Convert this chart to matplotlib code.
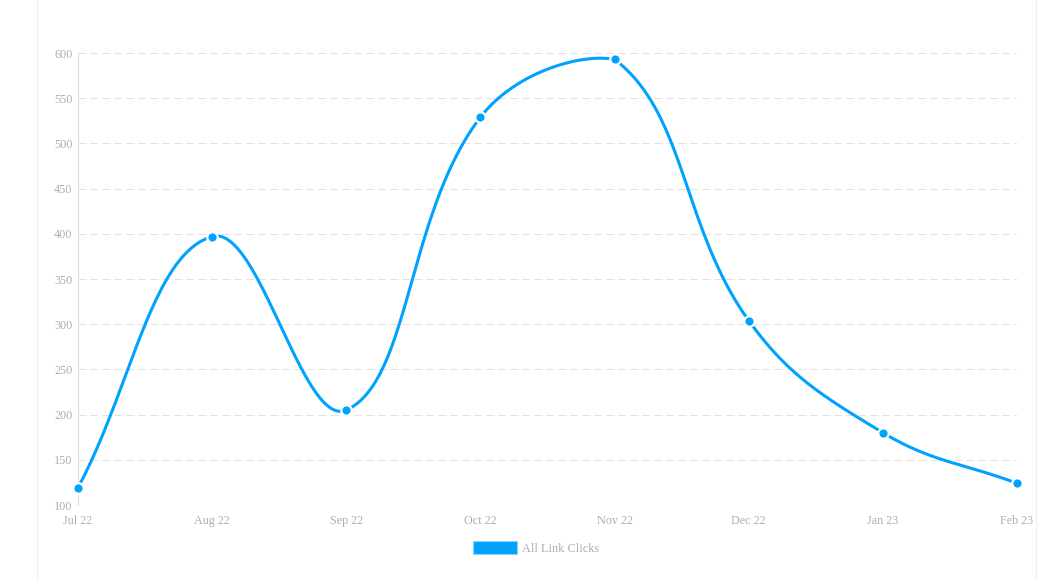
import numpy as np
import matplotlib
matplotlib.use("Agg")
import matplotlib.pyplot as plt
from matplotlib.patches import Patch
from matplotlib.lines import Line2D

months = ["Jul 22", "Aug 22", "Sep 22", "Oct 22", "Nov 22", "Dec 22", "Jan 23", "Feb 23"]
clicks = [119, 397, 205, 529, 593, 304, 180, 124]
y_ticks = [100, 150, 200, 250, 300, 350, 400, 450, 500, 550, 600]

LINE_COLOR = "#00a2ff"
TEXT_COLOR = "#a7afba"
GRID_COLOR = "#e2e2e2"

# axes box in pixels
AX_L, AX_R, AX_T, AX_B = 78, 1017, 53, 505
W, H = AX_R - AX_L, AX_B - AX_T
Y_MIN, Y_MAX = 100, 600


def tension_curve(x, y, tension=0.4, steps=50):
    # cardinal-style bezier (like chart.js tension 0.4), worked out in pixel space
    n = len(x)
    px = np.asarray(x, float) / (n - 1) * W
    py = (np.asarray(y, float) - Y_MIN) / (Y_MAX - Y_MIN) * H
    pts = np.column_stack([px, py])
    cp_prev = np.zeros_like(pts)
    cp_next = np.zeros_like(pts)
    for i in range(n):
        prev = pts[i - 1] if i > 0 else pts[i]
        cur = pts[i]
        nxt = pts[i + 1] if i < n - 1 else pts[i]
        d01 = np.hypot(*(cur - prev))
        d12 = np.hypot(*(nxt - cur))
        s01 = d01 / (d01 + d12)
        s12 = d12 / (d01 + d12)
        cp_prev[i] = cur - tension * s01 * (nxt - prev)
        cp_next[i] = cur + tension * s12 * (nxt - prev)
    # keep control points inside the chart area
    for cp in (cp_prev, cp_next):
        cp[:, 0] = np.clip(cp[:, 0], 0, W)
        cp[:, 1] = np.clip(cp[:, 1], 0, H)
    t = np.linspace(0, 1, steps)[:, None]
    segs = []
    for i in range(n - 1):
        p0, p1, p2, p3 = pts[i], cp_next[i], cp_prev[i + 1], pts[i + 1]
        segs.append((1 - t) ** 3 * p0 + 3 * (1 - t) ** 2 * t * p1 + 3 * (1 - t) * t ** 2 * p2 + t ** 3 * p3)
    curve = np.vstack(segs)
    return curve[:, 0] / W * (n - 1), curve[:, 1] / H * (Y_MAX - Y_MIN) + Y_MIN


fig = plt.figure(figsize=(10.57, 5.8), dpi=100)
ax = fig.add_axes([AX_L / 1057, 1 - AX_B / 580, W / 1057, H / 580])

x = np.arange(len(months))
cx, cy = tension_curve(x, clicks)
ax.plot(cx, cy, color=LINE_COLOR, linewidth=2.2, solid_capstyle="round", zorder=3)
ax.plot(x, clicks, linestyle="none", marker="o", markersize=7.5, markerfacecolor=LINE_COLOR,
        markeredgecolor="white", markeredgewidth=1.6, zorder=4, clip_on=False)

ax.set_xlim(0, len(months) - 1)
ax.set_ylim(Y_MIN, Y_MAX)
ax.set_xticks(x)
ax.set_xticklabels(months)
ax.set_yticks(y_ticks)
ax.set_yticklabels([str(v) for v in y_ticks])

for v in y_ticks:
    ax.axhline(v, color=GRID_COLOR, linewidth=0.72, dashes=(8, 4), zorder=1)

for side in ["top", "right", "bottom"]:
    ax.spines[side].set_visible(False)
ax.spines["left"].set_color("#dcdcdc")
ax.spines["left"].set_linewidth(0.8)

ax.tick_params(axis="both", length=0, colors=TEXT_COLOR, labelsize=8.7)
ax.tick_params(axis="x", pad=7.5)
ax.tick_params(axis="y", pad=4)
for lbl in ax.get_xticklabels() + ax.get_yticklabels():
    lbl.set_fontfamily("Liberation Serif")

# card borders
fig.add_artist(Line2D([37 / 1057, 37 / 1057], [0, 1], color="#f1f1f1", linewidth=1))
fig.add_artist(Line2D([1036 / 1057, 1036 / 1057], [0, 1], color="#f1f1f1", linewidth=1))

handle = Patch(facecolor=LINE_COLOR, edgecolor="#8fd3ff", linewidth=0.8, label="All Link Clicks")
fig.legend(handles=[handle], loc="center", bbox_to_anchor=(536 / 1057, 1 - 548 / 580),
           frameon=False, handlelength=3.6, handleheight=1.15, handletextpad=0.4,
           prop={"family": "Liberation Serif", "size": 8.8}, labelcolor=TEXT_COLOR)

fig.savefig("out.png", dpi=100)
